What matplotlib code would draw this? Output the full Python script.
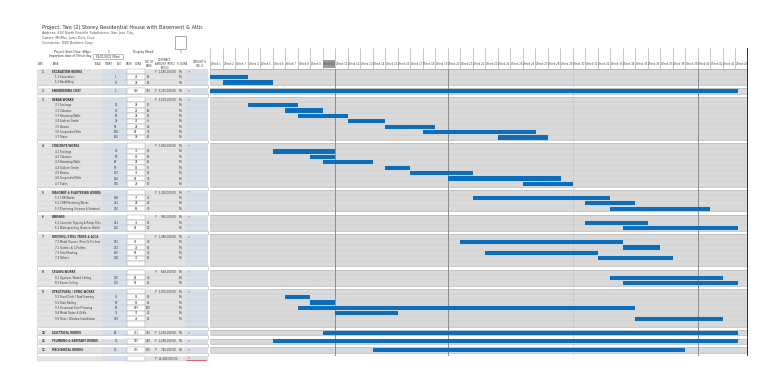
import matplotlib.pyplot as plt
from matplotlib.patches import Rectangle

W, H = 768, 383
ROW_H = 5.4      # px of one sheet row
SEP_H = 3.2      # px of a separator row
TOP = 69         # px, top of the first task row
WEEK_PX = 12.5   # px per week column
GX0, GX1 = 210, 748

# ---- sheet data -------------------------------------------------------
row_kind = ['sec', 'task', 'task', 'sep',
            'sec', 'sep',
            'sec', 'task', 'task', 'task', 'task', 'task', 'task', 'task', 'sep',
            'sec', 'task', 'task', 'task', 'task', 'task', 'task', 'task', 'sep',
            'sec', 'task', 'task', 'task', 'sep',
            'sec', 'task', 'task', 'sep',
            'sec', 'task', 'task', 'task', 'task', 'blank', 'sep',
            'sec', 'task', 'task', 'sep',
            'sec', 'task', 'task', 'task', 'task', 'task', 'blank', 'sep',
            'sec', 'sep', 'sec', 'sep', 'sec', 'sep',
            'total']

row_wbs = ['1', '', '', '',
           '2', '',
           '3', '', '', '', '', '', '', '', '',
           '4', '', '', '', '', '', '', '', '',
           '5', '', '', '', '',
           '6', '', '', '',
           '7', '', '', '', '', '', '',
           '8', '', '', '',
           '9', '', '', '', '', '', '', '',
           '10', '', '11', '', '12', '',
           '']

row_task = ['EXCAVATION WORKS', '1.1 Excavation', '1.2 Backfilling', '',
            'ENGINEERING COST', '',
            'REBAR WORKS', '3.1 Footings', '3.2 Columns', '3.3 Retaining Walls',
            '3.4 Slab on Grade', '3.5 Beams', '3.6 Suspended Slab', '3.7 Stairs', '',
            'CONCRETE WORKS', '4.1 Footings', '4.2 Columns', '4.3 Retaining Walls',
            '4.4 Slab on Grade', '4.5 Beams', '4.6 Suspended Slab', '4.7 Stairs', '',
            'MASONRY & PLASTERING WORKS', '5.1 CHB Works', '5.2 CHB Plastering Works',
            '5.3 Plastering (Interior & Exterior)', '',
            'FINISHES', '6.1 Concrete Topping & Ramp Tiles', '6.2 Waterproofing (Exterior Walls)', '',
            'ROOFING, STEEL TRUSS & ACCS.', '7.1 Metal Trusses (Steel & Purlins)',
            '7.2 Gutters & C-Purlins', '7.3 Steel Roofing', '7.4 Others', '', '',
            'CEILING WORKS', '8.1 Gypsum / Board Ceiling', '8.2 Eaves Ceiling', '',
            'STRUCTURAL / STEEL WORKS', '9.1 Steel Deck / Roof Framing', '9.2 Stair Railing',
            '9.3 Structural Steel Framing', '9.4 Metal Gates & Grills',
            '9.5 Door / Window Installation', '', '',
            'ELECTRICAL WORKS', '', 'PLUMBING & SANITARY WORKS', '', 'MECHANICAL WORKS', '',
            '']

# gantt bars, in weeks from the project start
bar_start = [None, 0, 1, None,
             0, None,
             None, 3, 6, 7, 11, 14, 17, 23, None,
             None, 5, 8, 9, 14, 16, 19, 25, None,
             None, 21, 30, 32, None,
             None, 30, 33, None,
             None, 20, 33, 22, 31, None, None,
             None, 32, 33, None,
             None, 6, 8, 7, 10, 34, None, None,
             9, None, 5, None, 13, None,
             None]
bar_weeks = [None, 3, 4, None,
             42.2, None,
             None, 4, 3, 4, 3, 4, 9.1, 4, None,
             None, 5, 2, 4, 2, 5, 9.1, 4, None,
             None, 11, 4, 8, None,
             None, 5, 9.2, None,
             None, 13, 3, 9, 6, None, None,
             None, 9, 9.2, None,
             None, 2, 2, 27, 5, 7, None, None,
             33.2, None, 37.2, None, 25, None,
             None]

col_start = ['', '1', '8', '',
             '1', '',
             '', '22', '43', '50', '78', '99', '120', '162', '',
             '', '36', '57', '64', '99', '113', '134', '176', '',
             '', '148', '211', '225', '',
             '', '211', '232', '',
             '', '141', '232', '155', '218', '', '',
             '', '225', '232', '',
             '', '43', '57', '50', '71', '239', '', '',
             '64', '', '36', '', '92', '',
             '']
col_days = ['', '21', '28', '',
            '296', '',
            '', '28', '21', '28', '21', '28', '63', '28', '',
            '', '35', '14', '28', '14', '35', '63', '28', '',
            '', '77', '28', '56', '',
            '', '35', '63', '',
            '', '91', '21', '63', '42', '', '',
            '', '63', '63', '',
            '', '14', '14', '189', '35', '49', '', '',
            '231', '', '259', '', '175', '',
            '']
col_work = ['', '15', '15', '',
            '301', '',
            '', '15', '10', '12', '8', '20', '30', '10', '',
            '', '15', '10', '15', '8', '20', '30', '10', '',
            '', '45', '20', '30', '',
            '', '15', '20', '',
            '', '30', '15', '40', '15', '', '',
            '', '40', '15', '',
            '', '15', '15', '100', '20', '15', '', '',
            '231', '', '259', '', '175', '',
            '']
col_amount = ['₱  1,185,000.00', '', '', '',
              '₱  3,225,000.00', '',
              '₱  2,150,000.00', '', '', '', '', '', '', '', '',
              '₱  1,950,000.00', '', '', '', '', '', '', '', '',
              '₱  1,320,000.00', '', '', '', '',
              '₱     960,000.00', '', '', '',
              '₱  1,480,000.00', '', '', '', '', '', '',
              '₱     640,000.00', '', '', '',
              '₱  1,075,000.00', '', '', '', '', '', '', '',
              '₱  1,250,000.00', '', '₱  1,180,000.00', '', '₱     740,000.00', '',
              '₱  16,480,000.00']

table_heads = ['WBS', 'TASK', 'LEAD', 'START', 'END', 'DAYS', 'DONE', 'NO. OF\nDAYS',
               'CONTRACT\nAMOUNT (PESO)\n(PESO)', '% DONE', 'WEIGHT %\nIN L.S.']
table_head_x = [41, 52, 98, 109, 119, 129, 138, 149, 165, 182, 200]

week_labels = ['Week %d' % n for n in range(1, 44)]
week_marks = [10, 19, 39]
week_dotted = [29]

title_lines = ['Project: Two (2) Storey Residential House with Basement & Attic',
               'Address: 892 North Ecoville Subdivision, San Jose City',
               'Owner: Mr/Mrs. Juan Dela Cruz',
               'Contractor: KVB Builders Corp.']

# ---- row layout ---------------------------------------------------------
heights = [SEP_H / ROW_H if k == 'sep' else 1.0 for k in row_kind]
tops = []
acc = 0.0
for h in heights:
    tops.append(acc)
    acc += h
centers = [t + h / 2 for t, h in zip(tops, heights)]
body_end = tops[-1]


def ypx(units):
    return TOP + units * ROW_H


BLUE = '#0a6ebd'
GRAY = '#d9d9d9'
TXT = '#333333'

fig = plt.figure(figsize=(W / 100, H / 100), dpi=100)
page = fig.add_axes([0, 0, 1, 1])
page.set_xlim(0, W)
page.set_ylim(H, 0)
page.axis('off')

# title block
page.text(42, 27, title_lines[0], fontsize=3.6, color=TXT, va='center')
for i, line in enumerate(title_lines[1:]):
    page.text(42, 33 + 5 * i, line, fontsize=2.4, color='#555555', va='center')

page.text(92, 52, 'Project Start Date (Wkp):', fontsize=2.2, color=TXT, ha='right', va='center')
page.text(109, 52, '1', fontsize=2.2, color=TXT, ha='center', va='center')
page.text(92, 56.5, 'Important date of Finish day:', fontsize=2.2, color=TXT, ha='right', va='center')
page.add_patch(Rectangle((93, 54.3), 30, 4.6, fc='white', ec='#888888', lw=0.4))
page.text(108, 56.6, '02/01/2021 (Mon)', fontsize=2.0, color=TXT, ha='center', va='center')
page.text(143, 52, 'Display Week', fontsize=2.2, color=TXT, ha='center', va='center')
page.add_patch(Rectangle((175, 36), 11, 13, fc='white', ec='#888888', lw=0.5))
page.text(181, 52, '1', fontsize=2.2, color=TXT, ha='center', va='center')

for lab, x in zip(table_heads, table_head_x):
    ha = 'left' if lab in ('TASK',) else 'center'
    page.text(x, 64, lab, fontsize=1.8, color=TXT, ha=ha, va='center',
              linespacing=1.0)

# table body
for i, k in enumerate(row_kind):
    y0 = ypx(tops[i])
    h = heights[i] * ROW_H
    yc = ypx(centers[i])
    if k == 'sep':
        page.add_patch(Rectangle((37, y0), 171, h, fc='white', ec='#b5b5b5', lw=0.4))
        continue
    page.add_patch(Rectangle((37, y0), 171, h, fc='#e3e3e3', ec='none'))
    page.add_patch(Rectangle((102, y0), 25, h, fc='#d5dee9', ec='none'))
    page.add_patch(Rectangle((185, y0), 23, h, fc='#d5dee9', ec='none'))
    page.add_patch(Rectangle((127, y0), 18, h, fc='white', ec='#9a9a9a', lw=0.3))
    page.hlines(y0 + h, 37, 208, color='#cfcfcf', lw=0.3)
    fs = 1.9
    if k == 'sec':
        page.text(42, yc, row_wbs[i], fontsize=fs, color=TXT, va='center', weight='bold')
        page.text(52, yc, row_task[i], fontsize=fs, color=TXT, va='center', weight='bold')
    else:
        page.text(55, yc, row_task[i], fontsize=fs, color=TXT, va='center')
    page.text(116, yc, col_start[i], fontsize=fs, color=TXT, ha='center', va='center')
    page.text(136, yc, col_days[i], fontsize=fs, color=TXT, ha='center', va='center')
    page.text(148, yc, col_work[i], fontsize=fs, color=TXT, ha='center', va='center')
    page.text(155, yc, col_amount[i], fontsize=fs, color=TXT, ha='left', va='center')
    if k in ('sec', 'task'):
        page.text(181, yc, '0%', fontsize=fs, color=TXT, ha='center', va='center')
    if k in ('sec', 'total'):
        page.text(189, yc + 0.3, '*', fontsize=3, color='#e03030', ha='center', va='center')
    if k == 'total':
        page.hlines(yc + 1.8, 186, 206, color='#e03030', lw=0.5)

# ---- gantt part ---------------------------------------------------------
gt, gb = 46, ypx(body_end)
gx = fig.add_axes([GX0 / W, 1 - gb / H, (GX1 - GX0) / W, (gb - gt) / H])
xmax = (GX1 - GX0) / WEEK_PX
gx.set_xlim(0, xmax)
gx.set_ylim(body_end, (gt - TOP) / ROW_H)
gx.axis('off')
gx.patch.set_alpha(0)

head_top = (48 - TOP) / ROW_H
lab_y = (64 - TOP) / ROW_H
for wk in range(len(week_labels) + 1):
    gx.vlines(wk, head_top, 0, color='#a6a6a6', lw=0.45)
gx.add_patch(Rectangle((9, (60 - TOP) / ROW_H), 1, (68 - 60) / ROW_H, fc='#9a9a9a', ec='none'))
for wk, lab in enumerate(week_labels):
    gx.text(wk + 0.5, lab_y, lab, fontsize=1.9, color='#444444', ha='center', va='center',
            clip_on=True)
gx.hlines(0, 0, xmax, color='#a6a6a6', lw=0.5)

for i, k in enumerate(row_kind):
    if k == 'total':
        continue
    if k == 'sep':
        gx.add_patch(Rectangle((0, tops[i]), xmax, heights[i], fc='white', ec='none'))
        gx.hlines([tops[i], tops[i] + heights[i]], 0, xmax, color='#b5b5b5', lw=0.45)
    else:
        gx.add_patch(Rectangle((0, tops[i]), xmax, heights[i], fc=GRAY, ec='none'))
        gx.hlines(tops[i] + heights[i], 0, xmax, color='#cacaca', lw=0.3)

gx.vlines(week_marks, 0, body_end, color='#8c8c8c', lw=0.7, zorder=2)
gx.vlines(week_dotted, 0, body_end, color='#a8a8a8', lw=0.5, linestyles=':', zorder=2)

rows = [i for i, s in enumerate(bar_start) if s is not None]
gx.barh([centers[i] for i in rows], [bar_weeks[i] for i in rows],
        left=[bar_start[i] for i in rows], height=0.78, color=BLUE, zorder=3)

gx.vlines(xmax - 0.02, head_top, body_end, color='black', lw=1.1, zorder=4)

fig.savefig('out.png', dpi=100)
